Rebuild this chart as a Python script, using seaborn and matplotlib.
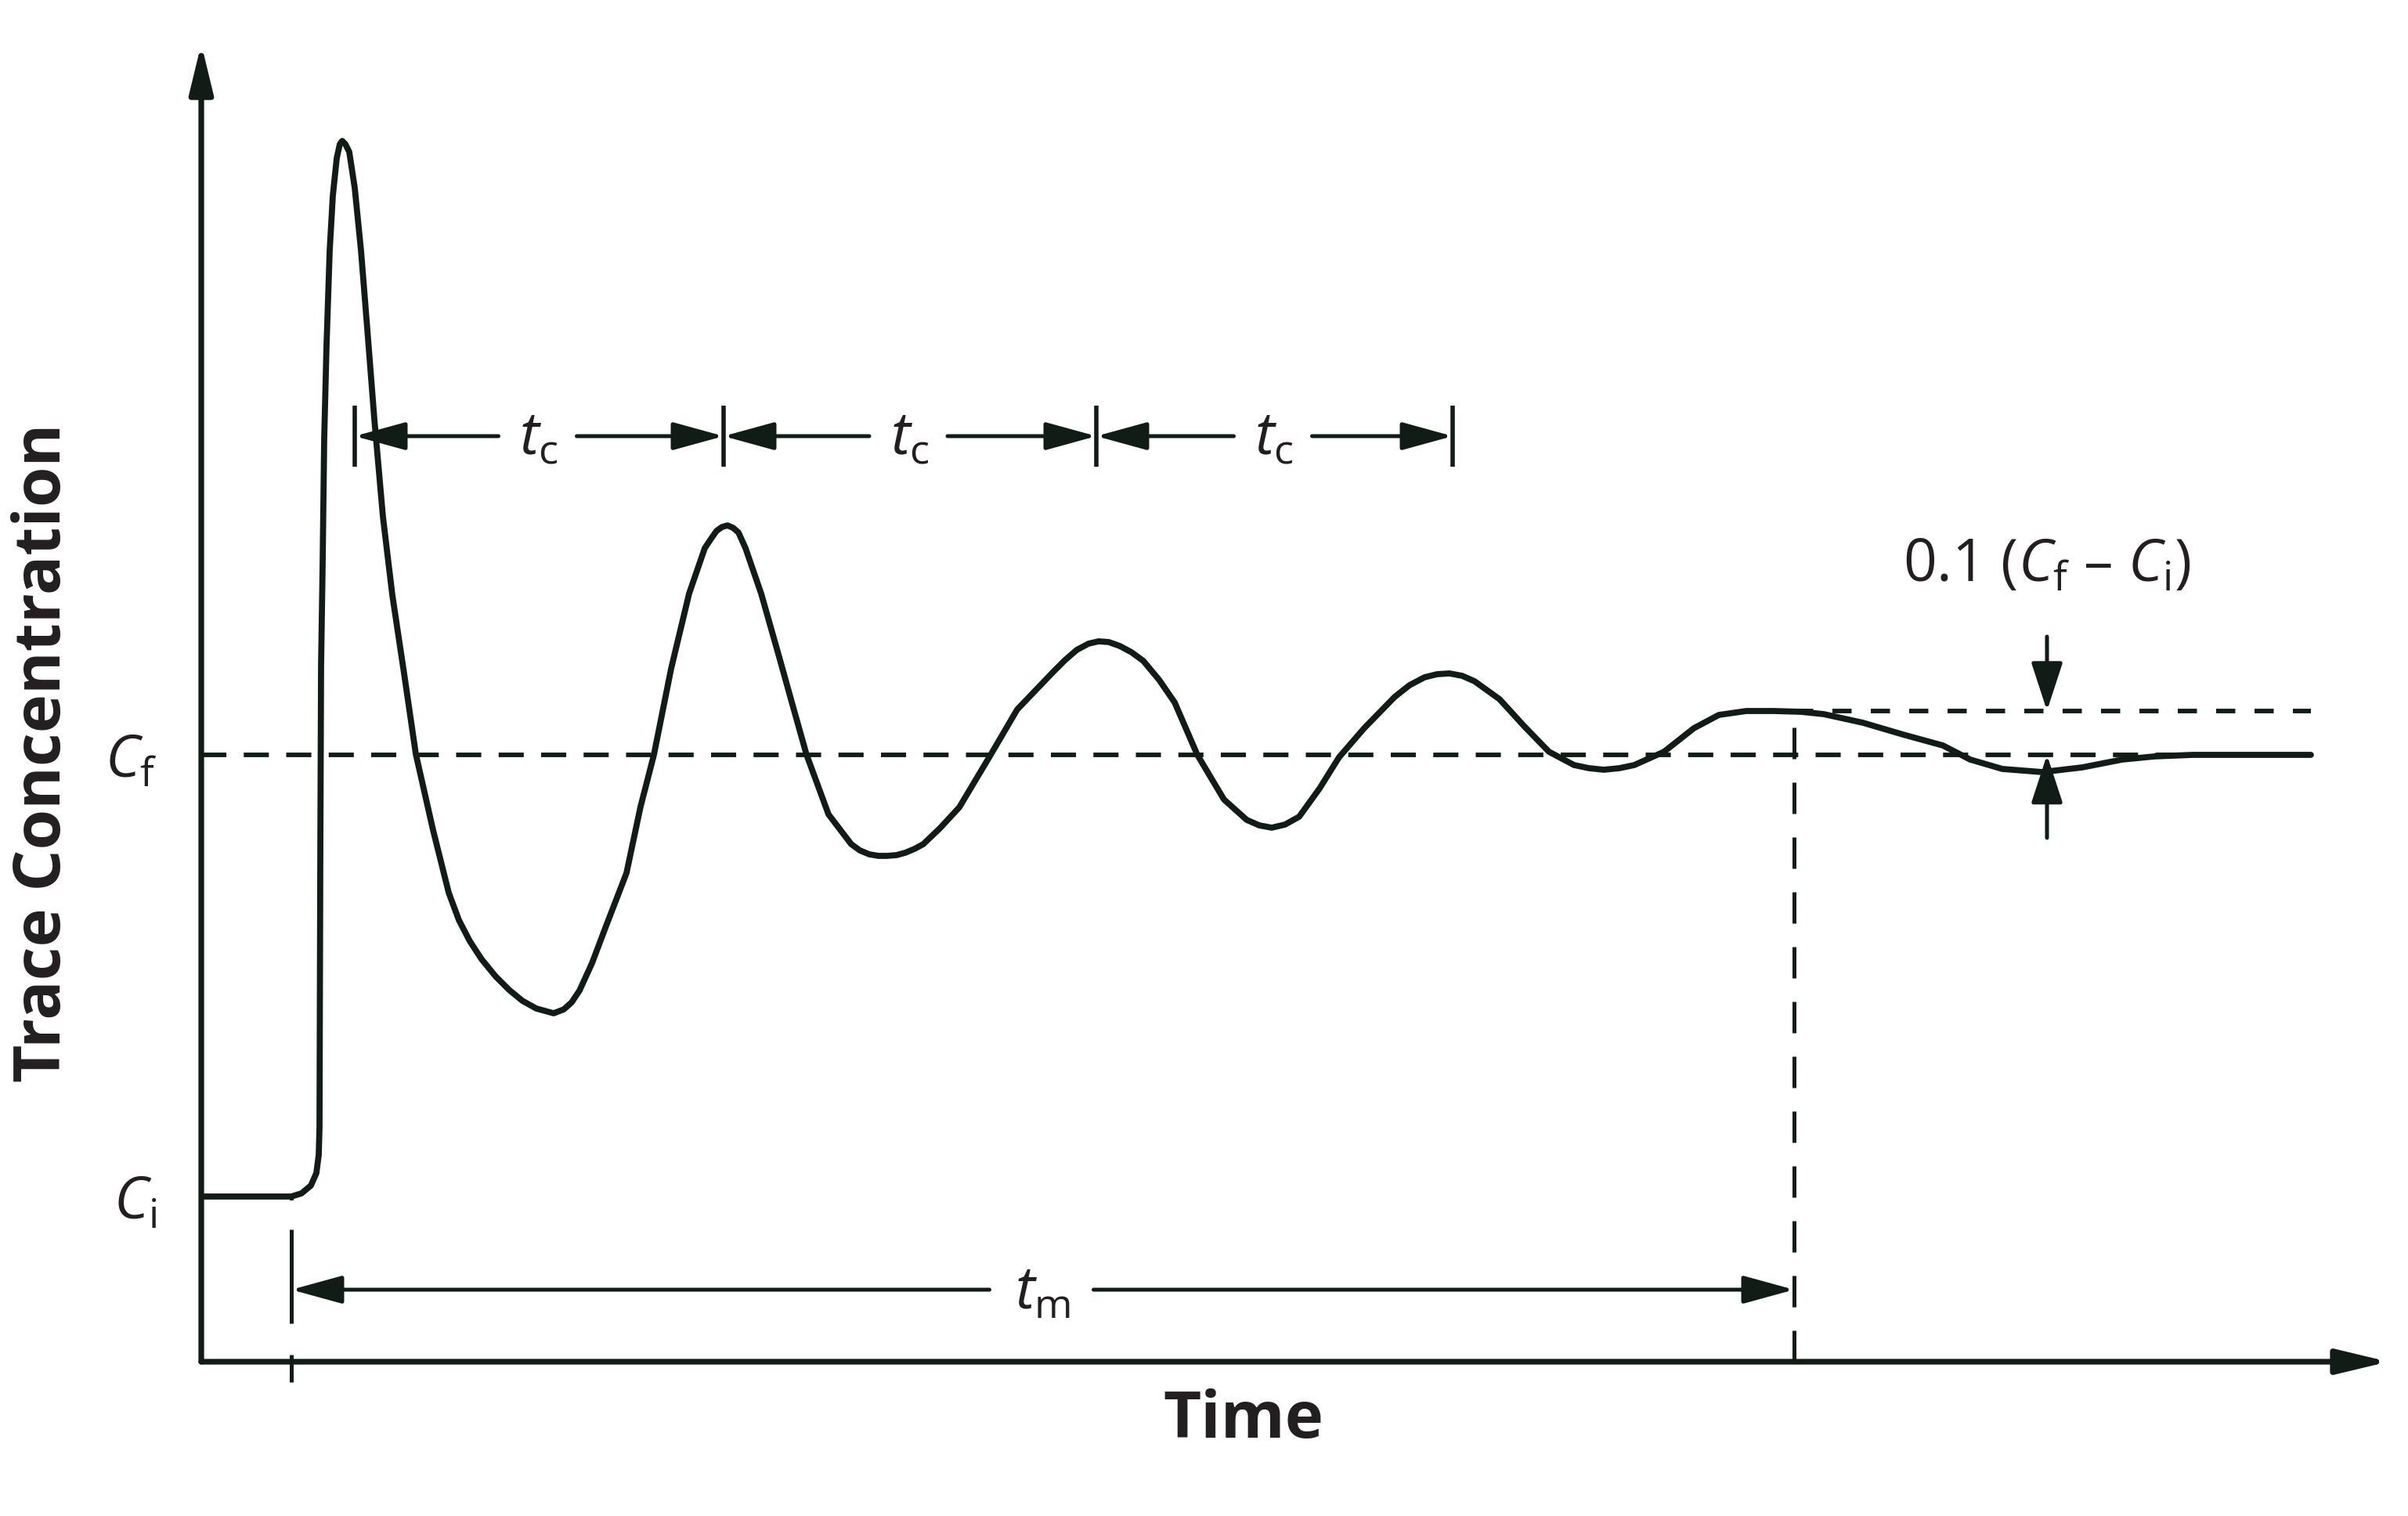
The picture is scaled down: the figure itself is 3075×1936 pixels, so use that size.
import matplotlib
matplotlib.use('Agg')
import matplotlib.pyplot as plt
import seaborn as sns

#------------------------------------------
# tracer response (time and concentration in arbitrary units)
time=[-11.5, 0.0, 1.3, 2.5, 3.2, 3.5, 3.6, 3.7, 3.8, 4.0, 4.2, 4.5, 4.9, 5.3, 5.8, 6.2, 6.5,
      6.9, 7.4, 8.1, 8.9, 9.7, 10.6, 11.7, 12.9, 14.4, 15.9, 18.1, 20.1, 21.4, 22.8, 24.3, 26.1,
      27.8, 29.5, 31.3, 33.5, 34.8, 35.8, 36.8, 38.4, 40.1, 42.8, 44.6, 46.3, 48.5, 50.8, 52.8,
      53.6, 54.3, 55.0, 55.7, 56.4, 57.1, 58.0, 60.0, 62.3, 64.0, 65.8, 68.6, 71.5, 72.6, 73.8,
      75.0, 76.1, 77.3, 78.4, 79.6, 80.7, 82.8, 85.3, 89.3, 92.7, 97.3, 98.8, 100.3, 101.8, 103.1,
      104.4, 105.8, 107.3, 108.8, 110.8, 112.8, 115.7, 119.1, 122.0, 123.6, 125.2, 126.9, 128.7,
      131.3, 133.8, 137.0, 140.9, 142.8, 144.7, 146.3, 147.9, 149.5, 151.1, 154.3, 157.4, 160.6,
      163.8, 165.7, 167.6, 169.6, 171.5, 175.3, 179.1, 182.3, 185.8, 189.3, 192.8, 195.7, 200.7,
      205.8, 210.9, 214.4, 218.5, 223.6, 228.7, 233.8, 237.9, 242.8, 257.9]
conc=[0.0, 0.0, 0.4, 1.4, 3.0, 5.3, 8.8, 42.8, 67.8, 80.8, 96.8, 108.8, 120.8, 127.8, 132.6, 134.4, 134.8,
      134.4, 133.4, 128.8, 120.8, 110.8, 99.3, 86.8, 76.8, 66.8, 56.5, 46.8, 38.8, 35.3, 32.6, 30.3, 28.1,
      26.4, 25.0, 24.0, 23.4, 23.9, 24.8, 26.3, 29.8, 34.3, 41.3, 49.8, 56.4, 67.4, 77.0, 82.8,
      84.0, 85.0, 85.5, 85.7, 85.4, 84.8, 82.8, 77.0, 68.9, 62.8, 56.4, 48.8, 45.0, 44.2, 43.7,
      43.5, 43.5, 43.6, 43.9, 44.4, 45.0, 47.0, 49.7, 56.4, 62.2, 67.0, 68.5, 69.8, 70.6, 70.9,
      70.8, 70.3, 69.5, 68.4, 66.0, 63.1, 56.4, 50.7, 48.1, 47.4, 47.1, 47.5, 48.5,
      52.1, 56.1, 59.8, 63.8, 65.3, 66.3, 66.7, 66.8, 66.5, 65.8, 63.5, 60.1, 56.8,
      55.1, 54.7, 54.5, 54.7, 55.1, 56.8, 59.8, 61.5, 62.0, 62.0, 61.9, 61.6, 60.5,
      59.0, 57.6, 55.8, 54.6, 54.2, 54.8, 55.8, 56.2, 56.4, 56.4]

CI=0.0          # initial concentration
CF=56.4         # final concentration
T_INJ=0.0       # injection time
T_MIX=191.9     # mixing time t_m
T_END=257.9
TC_MARKS=[8.1, 55.2, 102.8, 148.3]   # successive peaks -> circulation time t_c
T_BAND=224.2

ink='#111c17'
txt='#231f20'

######################################################
sns.set_style('white')
plt.rcParams['font.family']=['Open Sans', 'DejaVu Sans']
plt.rcParams['mathtext.fontset']='custom'
plt.rcParams['mathtext.it']='Open Sans:italic'
plt.rcParams['mathtext.rm']='Open Sans'

fig=plt.figure(figsize=(15.375, 9.68), dpi=200)
ax=fig.add_axes([0.08358, 0.10176, 0.90829, 0.86932])

#curve
sns.lineplot(x=time, y=conc, ax=ax, color=ink, lw=2.8, sort=False, estimator=None,
             solid_joinstyle='round', solid_capstyle='round')
ax.set_xlim(-11.5, 267.8)
ax.set_ylim(-21.1, 147.2)

#axes as arrows
for s in ax.spines.values(): s.set_visible(False)
ax.annotate('', xy=(1, 0), xytext=(0, 0), xycoords='axes fraction',
            arrowprops=dict(arrowstyle='-|>,head_length=2.0,head_width=0.48', mutation_scale=10,
                            lw=2.6, color=ink, shrinkA=0, shrinkB=0))
ax.annotate('', xy=(0, 1), xytext=(0, 0), xycoords='axes fraction',
            arrowprops=dict(arrowstyle='-|>,head_length=1.9,head_width=0.46', mutation_scale=10,
                            lw=2.6, color=ink, shrinkA=0, shrinkB=0))
ax.set_xticks([])
ax.set_yticks([CI, CF], labels=[r'$C_\mathrm{i}$', r'$C_\mathrm{f}$'])
ax.tick_params(axis='y', direction='out', length=15.5, width=2.2, pad=5, labelsize=27,
               colors=ink, labelcolor=txt)

#reference levels
upper=CF+0.1*(CF-CI)
ax.hlines(CF, -11.5, T_END, color=ink, lw=2.1, linestyles=(0, (5.5, 3.8)))
ax.hlines(upper, T_MIX, T_END, color=ink, lw=2.1, linestyles=(0, (4.2, 4.2)))
ax.vlines(T_MIX, -21.1, upper, color=ink, lw=1.8, linestyles=(0, (8, 6)))
ax.vlines(T_INJ, -23.7, CI, color=ink, lw=1.8, linestyles=(0, (7, 8, 24, 7.5, 5, 9)), clip_on=False)

#circulation time arrows
tc_lvl=97.1
ax.vlines(TC_MARKS, tc_lvl-3.9, tc_lvl+3.9, color=ink, lw=2.0)
ap=dict(arrowstyle='-|>,head_length=2.0,head_width=0.55', mutation_scale=10, lw=1.8,
        color=ink, shrinkA=0, shrinkB=0)
for a, b in zip(TC_MARKS[:-1], TC_MARKS[1:]):
    m=(a+b)/2
    ax.annotate('', xy=(a, tc_lvl), xytext=(m-5.2, tc_lvl), arrowprops=ap)
    ax.annotate('', xy=(b, tc_lvl), xytext=(m+4.8, tc_lvl), arrowprops=ap)
    ax.text(m, tc_lvl-2.4, r'$t_\mathrm{c}$', ha='center', va='baseline', fontsize=27, color=txt)

#mixing time arrow
tm_lvl=-11.9
m=(T_INJ+T_MIX)/2
ax.annotate('', xy=(T_INJ, tm_lvl), xytext=(m-6.8, tm_lvl), arrowprops=ap)
ax.annotate('', xy=(T_MIX, tm_lvl), xytext=(m+6.5, tm_lvl), arrowprops=ap)
ax.text(m, tm_lvl-2.4, r'$t_\mathrm{m}$', ha='center', va='baseline', fontsize=27, color=txt)

#10% band arrows
ap2=dict(arrowstyle='-|>,head_length=1.9,head_width=0.62', mutation_scale=10, lw=1.8,
         color=ink, shrinkA=0, shrinkB=0)
ax.annotate('', xy=(T_BAND, upper), xytext=(T_BAND, 71.5), arrowprops=ap2)
ax.annotate('', xy=(T_BAND, CF), xytext=(T_BAND, 45.8), arrowprops=ap2)
ax.text(T_BAND, 78.6, r'0.1 ($C_\mathrm{f}$ – $C_\mathrm{i}$)', ha='center', va='baseline',
        fontsize=27, color=txt)

#labels
fig.text(0.0182, 0.5036, 'Trace Concentration', rotation=90, ha='center', va='center',
         fontsize=30, weight='bold', color=txt)
fig.text(0.5164, 0.063, 'Time', ha='center', va='center', fontsize=30, weight='bold', color=txt)

plt.savefig('out.png', dpi=200)
plt.close()
